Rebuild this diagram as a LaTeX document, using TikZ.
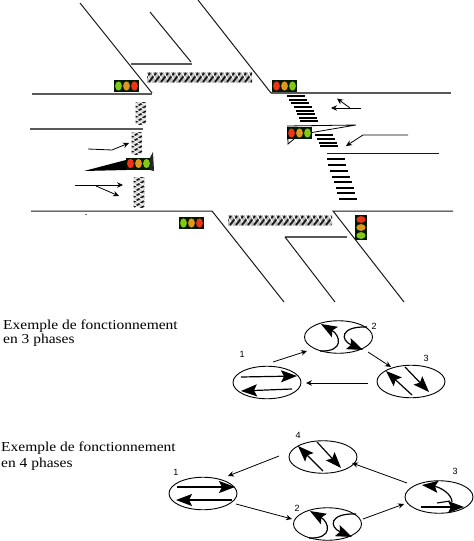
\documentclass[tikz,border=0pt]{standalone}
\usepackage{fontspec}
\setmainfont{Liberation Serif}
\newfontfamily\lblfont[FakeStretch=1.13]{Liberation Serif}
\newfontfamily\numfont{Liberation Sans}
\usetikzlibrary{arrows.meta,shapes.geometric}
\definecolor{sigred}{RGB}{240,50,25}
\definecolor{sigamb}{RGB}{225,150,30}
\definecolor{siggrn}{RGB}{130,200,20}
\tikzset{
  x=1pt,y=-1pt,
  road/.style={line width=1pt,black!90},
  roadgrey/.style={line width=1.1pt,black!65},
  stripe/.style={line width=1.7pt,black},
  flow/.style={line width=.8pt,black,-{Stealth[length=6pt,width=5.5pt]}},
  plainline/.style={line width=.8pt,black},
  phase/.style={draw,ellipse,line width=.9pt,inner sep=0pt,minimum width=68pt,minimum height=32.5pt},
  bigarrow/.style={line width=1.2pt,black,-{Stealth[length=16pt,width=12pt,inset=3pt]}},
  plabel/.style={font=\numfont\fontsize{9}{10}\selectfont,inner sep=0pt},
  ptitle/.style={font=\lblfont\fontsize{13.7}{15}\selectfont,anchor=base west,inner sep=0pt}
}
% horizontal signal: name, left, top, three colours
\newcommand{\hsignal}[6]{%
  \fill[black!90!green] (#2,#3) rectangle ++(25,12);
  \foreach \k/\c in {0/#4,1/#5,2/#6}{\fill[\c] ({#2+4.5+8*\k},{#3+6}) ellipse (3.4 and 4.6);}
}
% hatched crossing, drawn as a shape
\newcommand{\hatchh}[4]{%
  \begin{scope}
    \fill[black!25] (#1,#2) rectangle (#3,#4);
    \clip (#1,#2) rectangle (#3,#4);
    \pgfmathsetmacro{\xs}{#1-10}
    \pgfmathsetmacro{\xn}{#1-4}
    \foreach \u in {\xs,\xn,...,#3}{
      \draw[line width=1.9pt,black!90] (\u,#4-1) -- ++(7,-9);
      \draw[line width=1pt,white] (\u+3,#2) -- ++(6,12);
    }
  \end{scope}
}
\newcommand{\hatchv}[4]{%
  \begin{scope}
    \fill[black!15] (#1,#2) rectangle (#3,#4);
    \clip (#1,#2) rectangle (#3,#4);
    \pgfmathsetmacro{\ys}{#2-8}
    \pgfmathsetmacro{\yn}{#2-3}
    \foreach \u in {\ys,\yn,...,#4}{
      \draw[line width=1.6pt,black!90] (#1+1,\u+8) -- ++(10,-6);
      \draw[line width=.9pt,white] (#1,\u) -- ++(12,7);
    }
  \end{scope}
}
\begin{document}
\begin{tikzpicture}
\useasboundingbox (0,0) rectangle (474,541);
% roads
\draw[road] (80,3) -- (152,93);
\draw[roadgrey] (32,94) -- (152,94);
\draw[road] (150,12) -- (191,62);
\draw[roadgrey] (131,64) -- (192,64);
\draw[road] (198,0) -- (271,93);
\draw[roadgrey] (271,93) -- (451,93);
\draw[roadgrey] (30,129) -- (143,129);
\draw[road] (327,153) -- (439,153);
\draw[road] (31,211) -- (212,211) -- (284,302);
\draw[roadgrey] (285,237) -- (347,237);
\draw[road] (285,237) -- (335,302);
\draw[road] (453,211) -- (333,211) -- (404,302);
\fill[black!60] (85,214) rectangle (87,215);
% hatched crossings
\hatchh{147}{72}{252}{83}
\hatchh{228}{215}{332}{226}
\hatchv{135}{102}{146}{124}
\hatchv{131}{132}{142}{154}
\hatchv{133}{177}{145}{207}
% stripes
\foreach \x/\y in {287/96,289/100,291/103,294/107,296/111,297/114,299/118,300/121}
  \draw[stripe] (\x,\y) -- ++(17.5,0);
\foreach \x/\y in {315/135,317/139,319/143,320/146}
  \draw[stripe] (\x,\y) -- ++(17.5,0);
\foreach \x/\y in {327/159,328/165,330/171,332/177,334/182,336/188,337/193,339/199}
  \draw[stripe] (\x,\y) -- ++(17.5,0);
% signals
\hsignal{a}{114}{80}{siggrn}{sigamb}{sigred}
\hsignal{b}{272}{80}{sigred}{sigamb}{siggrn}
\hsignal{c}{287}{127}{sigred}{sigamb}{siggrn}
\hsignal{d}{126}{157.5}{sigred}{sigamb}{siggrn}
\hsignal{e}{179}{217}{siggrn}{sigamb}{sigred}
\fill[black!90!green] (355,215) rectangle (367,240);
\fill[sigred] (361,219.5) ellipse (4.6 and 3.4);
\fill[sigamb] (361,227.5) ellipse (4.6 and 3.4);
\fill[siggrn] (361,235.5) ellipse (4.6 and 3.4);
% signal supports
\draw[plainline] (287,126) -- (356,125) -- (312,132.5);
\draw[plainline] (287.5,127) -- (288,144) -- (294,139);
\fill[black] (84,171) -- (126,160) -- (126,170) -- cycle;
\fill[black!85] (150,157.5) -- (153,152) -- (154,171) -- (150,170) -- cycle;
% traffic arrows
\draw[flow] (361,108) -- (331,108);
\draw[flow] (350,108) -- (337,98.5);
\draw[flow] (408,135) -- (363,135) -- (346,146);
\draw[flow] (88,149) -- (112,150) -- (129,143);
\draw[flow] (75,185) -- (123,185);
\draw[flow] (96,186) -- (119,196);
% titles
\node[ptitle] (t3a) at (3,329) {Exemple de fonctionnement};
\node[ptitle] (t3b) at (3,343.5) {en 3 phases};
\node[ptitle] (t4a) at (1,451) {Exemple de fonctionnement};
\node[ptitle] (t4b) at (1,467) {en 4 phases};
% 3 phases
\node[phase] (pa) at (267,382.5) {};
\node[phase] (pb) at (338.5,337) {};
\node[phase] (pc) at (411,381.5) {};
\node[plabel] (la) at (242,354) {1};
\node[plabel] (lb) at (374,326) {2};
\node[plabel] (lc) at (426,358) {3};
\draw[flow] ([shift={(6,-20.5)}]pa.center) -- ([shift={(-31.5,14)}]pb.center);
\draw[flow] ([shift={(29.5,15)}]pb.center) -- ([shift={(-20,-14.5)}]pc.center);
\draw[flow] ([shift={(-43,1.5)}]pc.center) -- ([shift={(39,0.5)}]pa.center);
\draw[bigarrow] (241,377) -- (297,376);
\draw[bigarrow] (292,389) -- (241,391);
\draw[bigarrow] (320,351) .. controls (345,352) and (340,335) .. (321,324);
\draw[bigarrow] (367,327) .. controls (340,326) and (340,340) .. (363,350);
\draw[bigarrow] (412,395) -- (386,371);
\draw[bigarrow] (405,367) -- (429,392);
% 4 phases
\node[phase] (qa) at (203,493.5) {};
\node[phase] (qb) at (327.5,524) {};
\node[phase] (qc) at (439,497) {};
\node[phase] (qd) at (323,457) {};
\node[plabel] (ma) at (176,472) {1};
\node[plabel] (mb) at (297,508) {2};
\node[plabel] (mc) at (455,471) {3};
\node[plabel] (md) at (298,435) {4};
\draw[flow] ([shift={(-44,-1)}]qd.center) -- ([shift={(25,-17.5)}]qa.center);
\draw[flow] ([shift={(33,10.5)}]qa.center) -- ([shift={(-35.5,-5)}]qb.center);
\draw[flow] ([shift={(35.5,-5)}]qb.center) -- ([shift={(-35,7)}]qc.center);
\draw[flow] ([shift={(-32,-14)}]qc.center) -- ([shift={(29,6)}]qd.center);
\draw[bigarrow] (177,487) -- (235,487);
\draw[bigarrow] (232,500) -- (176,500);
\draw[bigarrow] (323,471) -- (298,446);
\draw[bigarrow] (317,442) -- (341,468);
\draw[bigarrow] (309,538) .. controls (334,539) and (329,522) .. (310,511);
\draw[bigarrow] (356,514) .. controls (329,513) and (329,527) .. (352,537);
\draw[bigarrow] (452,502) .. controls (452,494) and (440,487) .. (422,485);
\draw[bigarrow] (421,507) -- (464,507);
\draw[line width=1.1pt] (437,503) -- (450,501);
\end{tikzpicture}
\end{document}
